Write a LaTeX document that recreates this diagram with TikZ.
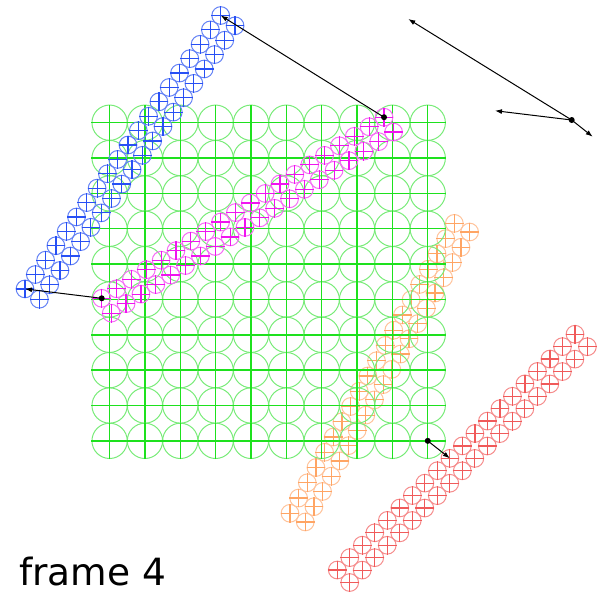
\documentclass[tikz,border=0pt]{standalone}
\usepackage{fontspec}
\setmainfont{DejaVu Sans}
\usepackage{tikz}
\usetikzlibrary{arrows.meta}

\definecolor{gline}{RGB}{30,225,30}
\definecolor{gring}{RGB}{120,235,120}
\definecolor{bline}{RGB}{40,80,245}
\definecolor{bring}{RGB}{100,130,245}
\definecolor{mline}{RGB}{240,20,240}
\definecolor{mring}{RGB}{245,110,245}
\definecolor{oline}{RGB}{255,165,100}
\definecolor{oring}{RGB}{255,195,155}
\definecolor{rline}{RGB}{240,90,90}
\definecolor{rring}{RGB}{245,140,140}

\tikzset{
  cell/.style={draw=#1, circle, inner sep=0pt, line width=1pt},
  gcell/.style={cell=gring, minimum size=35.3pt},
  scell/.style={cell=#1, minimum size=17.7pt},
  cross/.style={draw=#1, line width=1.2pt},
  vec/.style={-{Latex[length=7pt,width=5pt]}, line width=1pt},
}

\begin{document}
\begin{tikzpicture}[x=1pt,y=-1pt]
  \useasboundingbox (0,0) rectangle (610,600);
  % orange strip
  \foreach \a in {0,1}
    \foreach \r in {0,...,19} {
      \node[scell=oring] (o-\a-\r) at (290+8.65*\r+15.26*\a, 513.3-15.26*\r+8.65*\a) {};
      \draw[cross=oline] (o-\a-\r.north) -- (o-\a-\r.south) (o-\a-\r.west) -- (o-\a-\r.east);
    }
  % green grid
  \foreach \i in {0,...,9}
    \foreach \j in {0,...,9} {
      \node[gcell] (g-\i-\j) at (109.6+35.35*\i, 122.7+35.35*\j) {};
      \draw[cross=gline, line width=1.4pt] (g-\i-\j.north) -- (g-\i-\j.south) (g-\i-\j.west) -- (g-\i-\j.east);
    }
  % red strip
  \foreach \a in {0,1}
    \foreach \r in {0,...,19} {
      \node[scell=rring] (r-\a-\r) at (337.3+12.51*\r+12.41*\a, 570-12.41*\r+12.51*\a) {};
      \draw[cross=rline] (r-\a-\r.north) -- (r-\a-\r.south) (r-\a-\r.west) -- (r-\a-\r.east);
    }
  % blue strip
  \foreach \a in {0,1}
    \foreach \r in {0,...,19} {
      \node[scell=bring] (b-\a-\r) at (220.7-10.3*\r+14.39*\a, 15.5+14.39*\r+10.3*\a) {};
      \draw[cross=bline] (b-\a-\r.north) -- (b-\a-\r.south) (b-\a-\r.west) -- (b-\a-\r.east);
    }
  % magenta strip
  \foreach \a in {0,1}
    \foreach \r in {0,...,19} {
      \node[scell=mring] (m-\a-\r) at (101.7+14.86*\r+9.53*\a, 298.3-9.53*\r+14.86*\a) {};
      \draw[cross=mline] (m-\a-\r.north) -- (m-\a-\r.south) (m-\a-\r.west) -- (m-\a-\r.east);
    }

  \draw[vec] (m-0-19.center) -- (b-0-0.center);
  \draw[vec] (m-0-0.center) -- (b-0-19.center);
  \draw[vec] (g-9-9.center) -- (r-0-9.center);
  \fill (m-0-19.center) circle (3pt);
  \fill (m-0-0.center) circle (3pt);
  \fill (g-9-9.center) circle (3pt);

  \coordinate (orig) at (571.7,120);
  \coordinate (orig-b) at (408.3,19);
  \coordinate (orig-m) at (495,110.7);
  \coordinate (orig-r) at (592.7,136.7);
  \draw[vec] (orig) -- (orig-b);
  \draw[vec] (orig) -- (orig-m);
  \draw[vec] (orig) -- (orig-r);
  \fill (orig) circle (3pt);

  \node (frame) at (19,585) [anchor=base west,inner sep=0pt,font=\fontsize{37.5}{44}\selectfont] {frame 4};
\end{tikzpicture}
\end{document}
